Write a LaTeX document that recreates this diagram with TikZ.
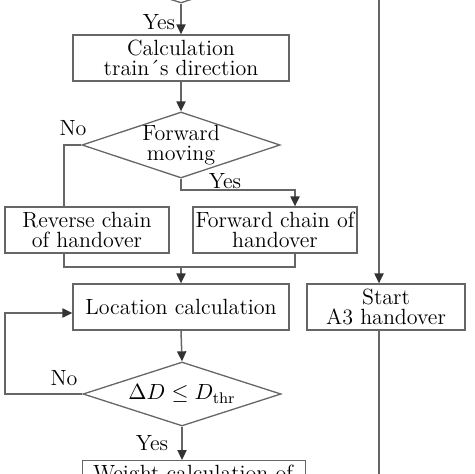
\documentclass[tikz,border=0pt]{standalone}
\usepackage{amsmath,amssymb}
\usepackage{tikz}
\usetikzlibrary{positioning,arrows.meta,calc,shapes.geometric}
\tikzset{
  >={Triangle[length=5pt,width=4.6pt]},
  procbox/.style={draw=black!60,rectangle,minimum height=23pt,
    inner sep=1pt,line width=0.65pt,align=center,
    font=\fontsize{11}{10.2}\selectfont},
  decbox/.style={draw=black!60,diamond,aspect=3,minimum width=99pt,
    minimum height=32pt,inner sep=0pt,line width=0.65pt,align=center,
    font=\fontsize{11}{10.2}\selectfont},
  flow/.style={draw=black!60,line width=0.75pt,-{Triangle[length=5pt,width=4.6pt,color=black!80,fill=black!80]}},
  link/.style={draw=black!60,line width=0.75pt},
  flowlbl/.style={font=\fontsize{11}{12}\selectfont,inner sep=1pt},
}

\begin{document}
\begin{tikzpicture}[x=0.5pt,y=-0.5pt]
  \useasboundingbox (0,0) rectangle (474,474);
  \clip (0,0) rectangle (474,474);
  % nodes
  \node[decbox] (prev) at (181,-29) {};
  \node[procbox,minimum width=108pt] (calc) at (181,58)
    {Calculation\\train\'{}s direction};
  \node[decbox] (fwd) at (181,145) {Forward\\moving};
  \node[procbox,minimum width=82pt] (rev) at (87,230)
    {Reverse chain\\of handover};
  \node[procbox,minimum width=82pt] (fch) at (275,230)
    {Forward chain of\\handover};
  \node[procbox,minimum width=108pt] (loc) at (181,307) {Location calculation};
  \node[procbox,minimum width=79pt] (athree) at (386,307) {Start\\A3 handover};
  \node[decbox] (thr) at (182,394) {$\Delta D \leq D_{\text{thr}}$};
  \node[procbox,minimum width=111.5pt,anchor=north west] (wgt) at (82,460) {};
  \node[anchor=north,inner sep=0pt,font=\fontsize{11}{10.2}\selectfont]
    (wgttxt) at (193,465) {Weight calculation of};
  % coordinates
  \coordinate (rtop) at (379,0);
  \coordinate (rbot) at (379,474);
  \coordinate (nol) at (64,145);
  \coordinate (yesr) at (295,190);
  \coordinate (joinl) at (64,267);
  \coordinate (joinr) at (295,267);
  \coordinate (join) at (181,267);
  \coordinate (backb) at (5,394);
  \coordinate (backt) at (5,313);
  % connectors
  \draw[flow] (prev.south) -- (calc.north);
  \draw[flow] (calc.south) -- (fwd.north);
  \draw[link] (fwd.west) -- (nol) -- (nol |- rev.north);
  \draw[flow] (fwd.south) |- (yesr) -- (yesr |- fch.north);
  \draw[link] (joinl |- rev.south) -- (joinl) -- (joinr) -- (joinr |- fch.south);
  \draw[flow] (join) -- (loc.north);
  \draw[flow] (loc.south) -- (thr.north);
  \draw[flow] (thr.west) -- (backb) -- (backt) -- (backt -| loc.west);
  \draw[flow] (thr.south) -- (thr.south |- wgt.north);
  \draw[flow] (rtop) -- (rtop |- athree.north);
  \draw[link] (rtop |- athree.south) -- (rbot);
  % labels
  \node[flowlbl] (y1) at (159,22) {Yes};
  \node[flowlbl] (n1) at (73,128) {No};
  \node[flowlbl] (y2) at (225,181) {Yes};
  \node[flowlbl] (n2) at (64,378) {No};
  \node[flowlbl] (y3) at (152,443) {Yes};
\end{tikzpicture}
\end{document}
